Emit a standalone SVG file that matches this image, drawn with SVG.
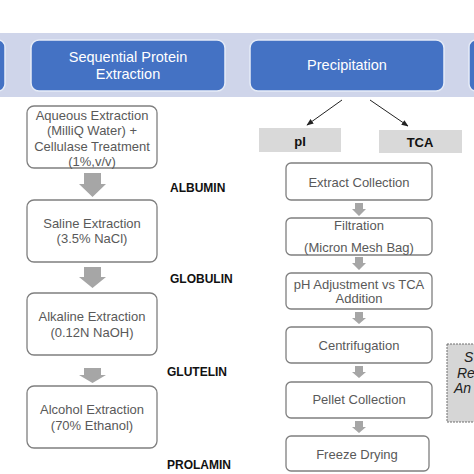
<svg xmlns="http://www.w3.org/2000/svg" width="474" height="474" viewBox="0 0 474 474">
<defs>
<style>
.hdr{fill:#4472c4;stroke:#e6ecf7;stroke-width:1.5}
.ht{font-family:"Liberation Sans",Arial,sans-serif;font-size:14.5px;fill:#ffffff;text-anchor:middle}
.box{fill:#ffffff;stroke:#7f7f7f;stroke-width:1.3}
.t{font-family:"Liberation Sans",Arial,sans-serif;font-size:13px;fill:#595959;text-anchor:middle}
.lbl{font-family:"Liberation Sans",Arial,sans-serif;font-size:12px;font-weight:bold;fill:#111111}
.gbox{fill:#d9d9d9}
.bt{font-family:"Liberation Sans",Arial,sans-serif;font-size:13px;font-weight:bold;fill:#111111;text-anchor:middle}
.blk{fill:#a6a6a6}
.ln{stroke:#222222;stroke-width:1;fill:none;marker-end:url(#ah)}
.it{font-family:"Liberation Sans",Arial,sans-serif;font-size:14px;font-style:italic;fill:#222222}
</style>
<marker id="ah" viewBox="0 0 10 10" refX="9" refY="5" markerWidth="7" markerHeight="7" orient="auto"><path d="M0,1 L10,5 L0,9 Z" fill="#222222"/></marker>
</defs>
<rect width="474" height="474" fill="#ffffff"/>
<rect x="0" y="33" width="474" height="64" fill="#cfd5ea"/>

<g id="hdr-left"><rect class="hdr" x="-20" y="40" width="25" height="51" rx="7"/></g>
<g id="hdr-seq"><rect class="hdr" x="31" y="40" width="194" height="51" rx="8"/>
<text class="ht" x="128" y="62">Sequential Protein</text><text class="ht" x="128" y="79">Extraction</text></g>
<g id="hdr-prec"><rect class="hdr" x="250" y="40" width="194" height="51" rx="8"/>
<text class="ht" x="347" y="70">Precipitation</text></g>
<g id="hdr-right"><rect class="hdr" x="469" y="40" width="40" height="51" rx="7"/></g>

<g id="aqueous"><rect class="box" x="27" y="106" width="130" height="62" rx="7"/>
<text class="t" x="92" y="119.5">Aqueous Extraction</text>
<text class="t" x="92" y="134.5">(MilliQ Water) +</text>
<text class="t" x="92" y="150.5">Cellulase Treatment</text>
<text class="t" x="92" y="165.5">(1%,v/v)</text></g>
<g id="saline"><rect class="box" x="27" y="200" width="130" height="62" rx="7"/>
<text class="t" x="92" y="227.5">Saline Extraction</text>
<text class="t" x="92" y="242.5">(3.5% NaCl)</text></g>
<g id="alkaline"><rect class="box" x="27" y="293" width="130" height="62" rx="7"/>
<text class="t" x="92" y="320.5">Alkaline Extraction</text>
<text class="t" x="92" y="336.5">(0.12N NaOH)</text></g>
<g id="alcohol"><rect class="box" x="27" y="386" width="130" height="62" rx="7"/>
<text class="t" x="92" y="413.5">Alcohol Extraction</text>
<text class="t" x="92" y="429.5">(70% Ethanol)</text></g>

<g id="labels">
<text class="lbl" x="170" y="192">ALBUMIN</text>
<text class="lbl" x="170" y="283">GLOBULIN</text>
<text class="lbl" x="167" y="376">GLUTELIN</text>
<text class="lbl" x="167" y="469">PROLAMIN</text>
</g>

<g id="pI"><rect class="gbox" x="259" y="128" width="82" height="24"/><text class="bt" x="300" y="146">pI</text></g>
<g id="TCA"><rect class="gbox" x="379" y="130" width="83" height="23"/><text class="bt" x="420" y="147">TCA</text></g>

<g id="extract"><rect class="box" x="286" y="163" width="146" height="37" rx="5"/><text class="t" x="359" y="186.5">Extract Collection</text></g>
<g id="filtration"><rect class="box" x="286" y="218" width="146" height="37" rx="5"/>
<text class="t" x="359" y="229.5">Filtration</text><text class="t" x="359" y="251.5">(Micron Mesh Bag)</text></g>
<g id="ph"><rect class="box" x="286" y="273" width="146" height="36" rx="5"/>
<text class="t" x="359" y="288.5">pH Adjustment vs TCA</text><text class="t" x="359" y="302.5">Addition</text></g>
<g id="centrifugation"><rect class="box" x="286" y="327" width="146" height="36" rx="5"/><text class="t" x="359" y="349.5">Centrifugation</text></g>
<g id="pellet"><rect class="box" x="286" y="382" width="146" height="36" rx="5"/><text class="t" x="359" y="403.5">Pellet Collection</text></g>
<g id="freeze"><rect class="box" x="286" y="436" width="143" height="35" rx="5"/><text class="t" x="357" y="458.5">Freeze Drying</text></g>

<g id="side-box"><rect x="447" y="344" width="40" height="78" fill="#d6d6d6" stroke="#6f6f6f" stroke-width="1" stroke-dasharray="2,1"/>
<text class="it" x="464" y="362">S</text>
<text class="it" x="457" y="378">Re</text>
<text class="it" x="454" y="393">An</text></g>

<g id="connectors">
<polygon class="blk" points="84,173 101,173 101,184 106,184 92.5,197 79,184 84,184"/>
<polygon class="blk" points="84,267 101,267 101,277 106,277 92.5,288 79,277 84,277"/>
<polygon class="blk" points="84,368 101,368 101,375 106,375 92.5,383 79,375 84,375"/>
<polygon class="blk" points="355,203 363,203 363,209 366,209 359,216 352,209 355,209"/>
<polygon class="blk" points="355,257 363,257 363,263 366,263 359,270 352,263 355,263"/>
<polygon class="blk" points="355,312 363,312 363,318 366,318 359,324 352,318 355,318"/>
<polygon class="blk" points="355,366 363,366 363,372 366,372 359,378 352,372 355,372"/>
<polygon class="blk" points="355,421 363,421 363,427 366,427 359,433 352,427 355,427"/>
<line class="ln" x1="342" y1="100" x2="307" y2="125"/>
<line class="ln" x1="370" y1="100" x2="408" y2="126"/>
</g>
</svg>
